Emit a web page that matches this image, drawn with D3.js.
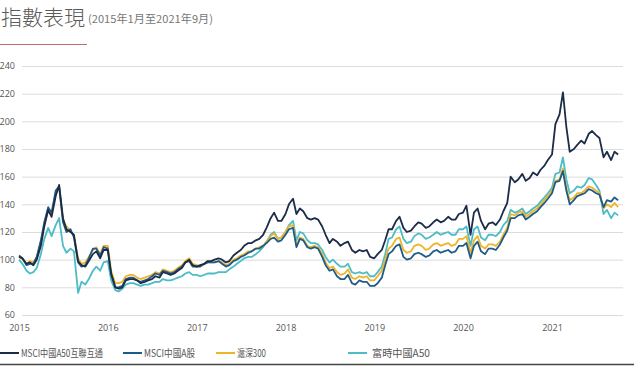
<!DOCTYPE html>
<html><head><meta charset="utf-8">
<script src="https://cdn.jsdelivr.net/npm/d3@7"></script>
<style>
html,body{margin:0;padding:0;background:#fff;}
svg{display:block;font-family:"Noto Sans CJK TC","Noto Sans",sans-serif;}
</style></head>
<body><svg id="c" width="640" height="369"></svg>
<script>
const seriesNames = ["MSCI中國A50互聯互通", "MSCI中國A股", "滬深300", "富時中國A50"];
const seriesColors = ["#1b2b48", "#1f5b88", "#f0b429", "#4cbcc6"];
const yTicks = [60, 80, 100, 120, 140, 160, 180, 200, 220, 240];
const yearLabels = ["2015", "2016", "2017", "2018", "2019", "2020", "2021"];

// semi-monthly observations (1st and 15th of each month), Jan 2015 - Sep 2021
const a50Connect = [
  102,101,97,98,96,100,110,124,136,131,146,154,130,122,120,118,99,96,95,99,104,106,101,107,
  107,90,80,79,80,85,86,86,85,83,84,85,86,88,87,91,90,89,90,92,94,98,100,96,
  95,96,97,99,99,100,101,100,98,99,103,105,107,110,112,112,114,115,118,123,130,134,128,128,
  133,140,144,133,137,135,130,129,130,129,124,118,112,115,113,110,112,113,107,105,107,106,107,102,
  101,104,107,114,122,122,128,131,123,120,121,124,127,126,123,124,127,129,127,128,131,129,129,133,
  134,139,118,134,137,128,122,126,127,125,129,135,141,160,156,158,162,157,159,163,161,165,168,172,
  176,198,205,221,196,178,180,183,186,184,191,193,190,188,174,178,172,178,176
];
const msciChinaA = [
  103,101,96,97,97,102,114,127,138,134,150,153,127,120,122,116,98,95,96,101,108,108,103,109,
  108,89,80,80,81,86,87,87,85,84,85,86,88,90,89,92,91,90,91,93,95,98,99,95,
  95,95,97,98,98,98,99,97,95,96,99,100,102,103,105,106,108,108,110,112,115,116,113,114,
  118,122,123,109,115,114,109,108,109,108,102,96,92,93,88,86,86,89,83,82,85,84,84,81,
  81,83,87,96,104,106,110,111,102,100,101,104,105,104,102,103,106,107,105,106,107,105,106,110,
  110,112,101,110,113,106,104,108,108,107,111,116,121,130,130,132,133,129,131,133,135,138,141,144,
  148,156,157,164,150,140,143,146,147,148,151,150,148,147,138,143,142,145,143
];
const csi300 = [
  102,100,97,99,98,102,113,126,135,133,148,152,128,124,121,117,101,97,98,102,107,109,104,110,
  110,92,83,83,84,88,89,89,87,86,87,88,89,91,90,93,92,91,92,94,96,99,101,97,
  96,95,97,98,98,98,99,98,96,97,100,101,103,104,106,106,108,109,110,113,117,119,115,116,
  120,124,125,110,116,115,110,109,110,109,104,98,94,95,91,89,90,93,87,86,88,87,88,85,
  85,88,92,100,108,110,115,116,107,105,106,110,111,110,107,108,111,112,110,111,112,110,111,115,
  115,117,105,114,117,110,108,111,111,110,113,118,123,133,132,134,135,131,133,135,137,140,143,146,
  150,157,158,166,152,143,145,148,148,150,153,152,150,148,137,140,138,141,138
];
const ftseA50 = [
  100,97,92,90,91,94,104,115,123,117,125,130,110,105,108,106,76,84,82,86,92,95,92,98,
  99,85,78,77,79,82,83,83,82,81,82,82,83,84,84,86,85,85,86,87,88,90,91,89,
  89,88,89,90,90,90,91,91,91,93,95,97,99,101,102,102,104,106,109,113,118,120,115,116,
  120,125,128,114,120,119,114,112,112,111,107,102,98,100,97,95,95,97,91,90,91,90,91,88,
  88,91,95,104,115,116,122,124,115,112,113,117,119,118,115,116,118,120,118,119,120,118,118,122,
  122,124,110,122,124,116,114,118,118,117,120,125,128,136,134,135,137,133,135,137,139,142,145,148,
  152,162,163,174,158,148,150,153,152,154,159,158,154,150,133,136,130,134,132
];

// observation dates
const dates = [];
for (let yr = 2015; yr <= 2021; yr++) {
  for (let m = 0; m < 12; m++) {
    if (yr === 2021 && m > 8) break;
    dates.push(new Date(yr, m, 1));
    dates.push(new Date(yr, m, 15));
  }
}
dates.push(new Date(2021, 8, 30));

const allSeries = [a50Connect, msciChinaA, csi300, ftseA50];

const svg = d3.select("#c");

// Title
svg.append("text").attr("x", 1).attr("y", 25)
  .attr("font-size", 21).attr("font-weight", 300).attr("fill", "#5a5a5a")
  .text("指數表現");
svg.append("text").attr("x", 88).attr("y", 23)
  .attr("font-size", 11).attr("fill", "#777")
  .attr("textLength", 125).attr("lengthAdjust", "spacingAndGlyphs")
  .text("(2015年1月至2021年9月)");
svg.append("line").attr("x1", 0).attr("x2", 87).attr("y1", 44.5).attr("y2", 44.5)
  .attr("stroke", "#c46a6a").attr("stroke-width", 1);

const x = d3.scaleTime().domain([new Date(2015,0,1), new Date(2021,0,1)]).range([19, 552]);
const y = d3.scaleLinear().domain([60, 240]).range([315, 66]);

// y axis with gridlines
const gy = svg.append("g").attr("transform", "translate(22,0)")
  .call(d3.axisLeft(y).tickValues(yTicks).tickSize(-601).tickPadding(7));
gy.select(".domain").remove();
gy.selectAll(".tick line").attr("stroke", "#dcdcdc").attr("stroke-width", 1);
gy.selectAll(".tick text").attr("font-size", 9).attr("fill", "#555")
  .attr("font-family", "'Open Sans','Noto Sans',sans-serif");

// x axis
const gx = svg.append("g").attr("transform", "translate(0,315)")
  .call(d3.axisBottom(x)
    .tickValues(yearLabels.map(s => new Date(+s, 0, 1)))
    .tickFormat(d3.timeFormat("%Y")).tickSize(0).tickPadding(10));
gx.select(".domain").remove();
gx.selectAll(".tick text").attr("font-size", 9).attr("fill", "#555")
  .attr("font-family", "'Open Sans','Noto Sans',sans-serif");

// lines (draw in reverse so the first series is on top)
const line = d3.line().x((d, i) => x(dates[i])).y(d => y(d));
[3, 2, 1, 0].forEach(k => {
  svg.append("path").datum(allSeries[k])
    .attr("d", line)
    .attr("fill", "none")
    .attr("stroke", seriesColors[k])
    .attr("stroke-width", 1.8)
    .attr("stroke-linejoin", "round");
});

// legend
const legendX = [0, 123, 216, 348];
const legendW = [82, 51, 29, 58];
const lg = svg.append("g").attr("transform", "translate(0,353)");
seriesNames.forEach((nm, i) => {
  lg.append("line").attr("x1", legendX[i]).attr("x2", legendX[i] + 19)
    .attr("y1", 0).attr("y2", 0)
    .attr("stroke", seriesColors[i]).attr("stroke-width", 2);
  lg.append("text").attr("x", legendX[i] + (i === 3 ? 24 : 21)).attr("y", 3.5)
    .attr("font-size", 10).attr("fill", "#555")
    .attr("textLength", legendW[i]).attr("lengthAdjust", "spacingAndGlyphs")
    .text(nm);
});
svg.append("line").attr("x1", 0).attr("x2", 634).attr("y1", 364.5).attr("y2", 364.5)
  .attr("stroke", "#444").attr("stroke-width", 1.5);
</script>
</body></html>
